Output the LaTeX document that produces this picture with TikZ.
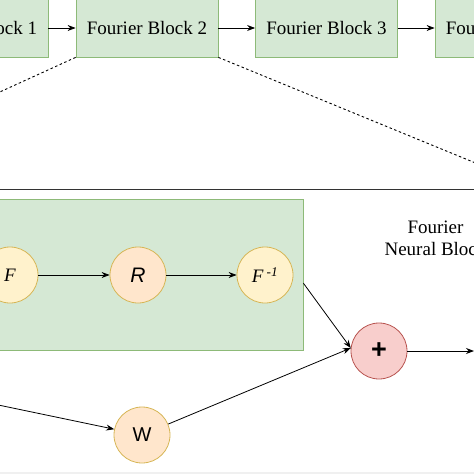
\documentclass[tikz,border=0pt]{standalone}
\usepackage{fontspec}
\setmainfont{Liberation Serif}
\newfontfamily\arialfont{Liberation Sans}
\usetikzlibrary{arrows.meta}

\definecolor{blockfill}{HTML}{D5E8D4}
\definecolor{blockline}{HTML}{8DBA78}
\definecolor{yelfill}{HTML}{FFF2CC}
\definecolor{yelline}{HTML}{D6B656}
\definecolor{orafill}{HTML}{FFE6CC}
\definecolor{redfill}{HTML}{F8CECC}
\definecolor{redline}{HTML}{B85450}
\definecolor{frameline}{HTML}{333333}

\tikzset{
  block/.style={draw=blockline, fill=blockfill, line width=0.8pt,
    minimum width=142pt, minimum height=58pt, inner sep=0pt},
  op/.style={circle, draw=yelline, line width=0.8pt, minimum size=56pt, inner sep=0pt},
  arr/.style={-{Stealth[length=8pt,width=6pt]}, line width=0.8pt},
  zoomline/.style={dash pattern=on 2.5pt off 2.5pt, line width=0.9pt},
}

\begin{document}
\begin{tikzpicture}[x=1pt, y=-1pt, font=\fontsize{19}{22}\selectfont]
  \useasboundingbox (0,0) rectangle (474,474);
  \begin{scope}
    \clip (0,0) rectangle (474,474);
    \fill[black!6] (0,472) rectangle (474,474);

    % Fourier blocks
    \node[block] (b1) at (-23, 28) {Fourier Block 1};
    \node[block] (b2) at (147, 28) {Fourier Block 2};
    \node[block] (b3) at (326.5, 28) {Fourier Block 3};
    \node[block] (b4) at (506, 28) {Fourier Block 4};

    \draw[arr] (b1) -- (b2);
    \draw[arr] (b2) -- (b3);
    \draw[arr] (b3) -- (b4);

    % Fourier neural block (zoomed)
    \node[draw=frameline, line width=1.2pt, minimum width=750pt,
      minimum height=300pt, inner sep=0pt] (fnb) at (163, 339.5) {};

    \draw[zoomline] (b2.south west) -- (fnb.north west);
    \draw[zoomline] (b2.south east) -- (fnb.north east);

    \node[align=center] (title) at (435.5, 238) {Fourier\\Neural Block};

    % spectral path
    \node[block, minimum width=331pt, minimum height=151pt] (spec) at (137.5, 274.5) {};

    \node[op, fill=yelfill] (f) at (10, 275) {\textit{F}};
    \node[op, fill=orafill] (r) at (138, 275) {\arialfont\fontsize{21}{21}\selectfont\itshape R};
    \node[op, fill=yelfill] (finv) at (265, 275) {\textit{F\,\textsuperscript{-1}}};
    \node[op, fill=redfill, draw=redline] (plus) at (379, 351) {\arialfont\fontsize{27}{27}\selectfont\bfseries +};
    \node[op, fill=orafill] (w) at (142, 435) {\arialfont\fontsize{20}{20}\selectfont W};

    \coordinate (in) at (-40, 397);
    \coordinate (out) at (474, 351);

    \draw[arr] (f) -- (r);
    \draw[arr] (r) -- (finv);
    \draw[arr] (spec.-3.3) -- (plus.174);
    \draw[arr] (in) -- (w);
    \draw[arr] (w) -- (plus.174);
    \draw[arr] (plus) -- (out);
  \end{scope}
\end{tikzpicture}
\end{document}
